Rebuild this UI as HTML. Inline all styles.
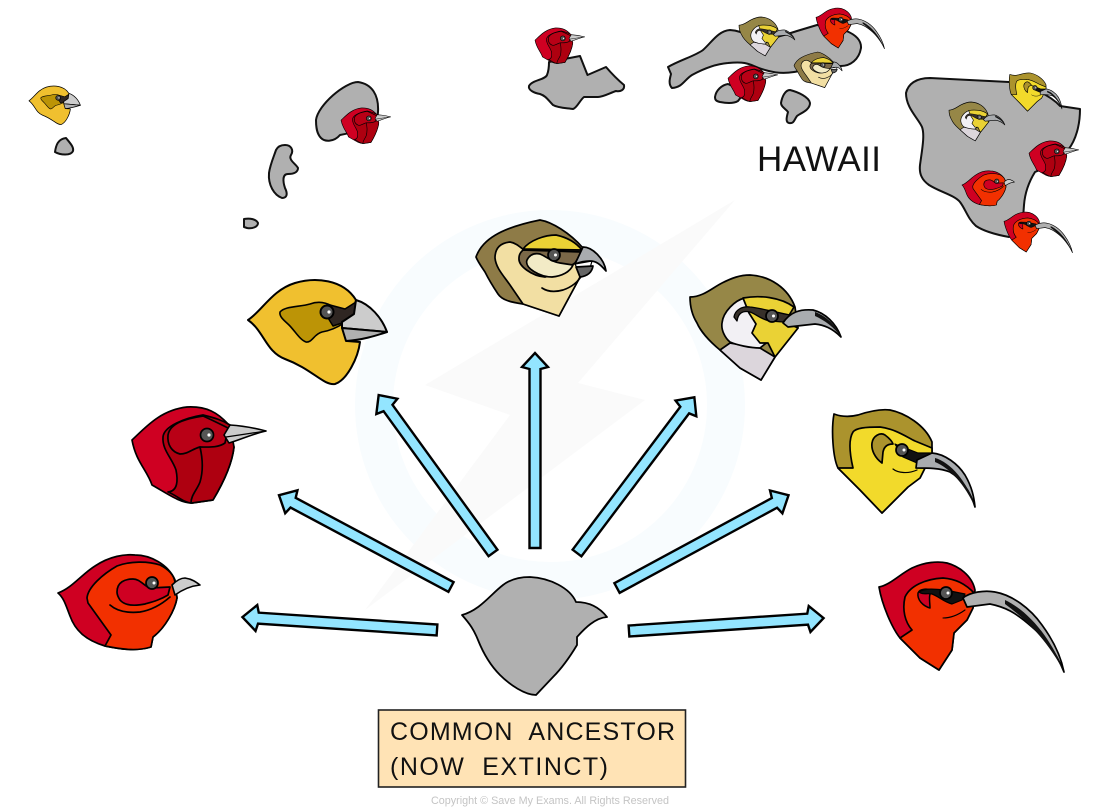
<!DOCTYPE html>
<html><head><meta charset="utf-8"><title>Common ancestor</title>
<style>html,body{margin:0;padding:0;background:#fff}svg{display:block}
.t{font-family:"Liberation Sans",sans-serif;fill:#111}</style></head>
<body>
<svg xmlns="http://www.w3.org/2000/svg" width="1100" height="810" viewBox="0 0 1100 810">
<defs>
<g id="finch" stroke="#000" stroke-width="2" stroke-linejoin="round" stroke-linecap="round">
<path fill="#F0C02F" d="M248,320C262,311 272,290 295,283C315,277 343,279 356,300L347,341L360,342C358,358 347,380 335,384C324,386 312,369 285,359C266,352 264,331 248,320Z"/>
<path fill="#BC9406" stroke-width="1.6" d="M280,312C285,306 300,307 310,304C318,301 325,302 332,306L344,323C335,329 328,331 322,332C314,334 312,343 306,342C300,340 295,331 289,325C285,321 279,317 280,312Z"/>
<path fill="#2F2622" stroke-width="1.5" d="M322,308L330,305L345,309L356,302L354,314L342,323L333,326Z"/>
<path fill="#CCCCCC" d="M356,300C370,304 382,318 387,332L342,328L342,322L354,314Z"/>
<path fill="#B0B0B0" d="M342,328L387,332C375,336 362,340 346,341Z"/>
<circle cx="327" cy="312" r="6.5" fill="#555"/><circle cx="329" cy="312" r="1.6" fill="#fff" stroke="none"/>
</g>
<g id="red" stroke="#000" stroke-width="1.7" stroke-linejoin="round" stroke-linecap="round">
<path fill="#CF0022" d="M132,440C145,428 160,410 187,407C207,406 218,413 228,424L229,443L234,447C232,465 222,485 213,500L192,503C180,503 168,494 152,485C147,470 136,462 132,440Z"/>
<path fill="#AE0010" d="M163,437C164,426 185,418 203,415C215,418 222,420 230,425L234,447C232,465 222,485 213,500L192,503C184,503 176,495 168,492C178,491 178,480 176,470C172,458 162,450 163,437Z"/>
<path fill="#B90016" d="M168,435C170,422 190,418 203,416C212,420 220,424 228,428L225,443C218,448 208,447 200,447C192,449 188,454 180,454C172,452 167,445 168,435Z"/>
<path fill="none" d="M200,447C203,460 203,472 200,482C197,490 191,495 191,503"/>
<path fill="#CCCCCC" stroke-width="1.6" d="M230,425C244,426 255,428 266,431C252,434 240,440 229,443L224,435Z"/>
<path fill="none" stroke-width="1.2" d="M226,437C240,435 252,433 266,431"/>
<circle cx="207" cy="435" r="6.5" fill="#555"/><circle cx="209" cy="435" r="1.6" fill="#fff" stroke="none"/>
</g>
<g id="orange" stroke="#000" stroke-width="1.7" stroke-linejoin="round" stroke-linecap="round">
<path fill="#CF0022" d="M58,593C72,588 82,574 95,566C110,556 125,554 135,555C150,555 168,564 175,580L177,598C175,610 165,628 153,637L151,647C138,651 125,650 105,646C85,640 75,630 70,616C66,606 64,598 58,593Z"/>
<path fill="#F23000" d="M87,598C88,587 103,574 117,566C130,561 148,561 160,565C170,570 174,576 175,582L177,598C175,610 165,628 153,637L151,647C138,651 125,650 105,646L111,635L88,603Z"/>
<path fill="#CF0022" d="M117,592C117,582 125,579 133,579C140,579 144,586 150,588L170,587L168,595C160,600 152,602 145,604C135,606 125,606 120,600C118,597 117,595 117,592Z"/>
<path fill="none" d="M110,605C118,612 130,613 140,612C152,610 162,604 170,597"/>
<path fill="#CCCCCC" stroke-width="1.6" d="M172,585C176,581 180,578 185,578C192,579 196,582 200,585C190,586 182,590 175,595Z"/>
<circle cx="152" cy="583" r="6" fill="#555"/><circle cx="154" cy="583" r="1.5" fill="#fff" stroke="none"/>
</g>
<g id="parrot" stroke="#000" stroke-width="1.7" stroke-linejoin="round" stroke-linecap="round">
<path fill="#8E7B47" d="M476,257C482,240 500,228 540,220C552,222 570,233 583,248L580,277L559,316L523,304C510,302 502,300 498,294C492,285 489,280 485,272C481,266 478,262 476,257Z"/>
<path fill="#F2DFA3" d="M495,258C495,248 500,243 510,242C516,243 520,247 524,250L582,250L580,277L559,316L523,304L510,285C503,275 496,268 495,258Z"/>
<path fill="#EAD235" d="M523,249C530,240 545,235 556,235C570,238 578,245 582,250Z"/>
<path fill="#7B6848" d="M523,250L582,252L575,263C565,270 553,275 545,277C532,276 518,266 519,258C519,254 521,252 523,250Z"/>
<path fill="#F2EBC6" d="M527,260C530,254 535,253 540,254C547,257 552,262 560,263L573,265C570,272 562,276 552,277C540,277 524,268 527,260Z"/>
<path fill="none" d="M542,288C548,292 556,292 563,290C572,287 578,282 582,275"/>
<path fill="#fff" stroke-width="1.2" d="M575,264L592,261L590,268L578,270Z"/>
<path fill="#666" d="M576,267L593,266C592,272 588,276 580,277Z"/>
<path fill="#A9ACAF" d="M583,247C592,247 604,258 606,271C600,264 596,261 590,261C585,261 580,262 575,264Z"/>
<circle cx="554" cy="255" r="6" fill="#555"/><circle cx="555.5" cy="255" r="1.5" fill="#fff" stroke="none"/>
</g>
<g id="olive" stroke="#000" stroke-width="1.7" stroke-linejoin="round" stroke-linecap="round">
<path fill="#968747" d="M690,297C703,297 712,288 722,283C732,278 740,275 750,275C770,276 788,288 795,307L798,328L775,357L761,380L740,368L720,350C708,340 700,330 697,323C692,315 690,305 690,297Z"/>
<path fill="#DCD6DC" d="M720,350L730,343L760,348L775,357L761,380L740,368Z"/>
<path fill="#F2F0F4" d="M722,323C723,312 735,300 745,298L770,340L760,348C750,348 737,345 730,342C725,338 721,330 722,323Z"/>
<path fill="#EAD235" d="M743,298C760,295 780,297 794,307L785,322L798,328L775,357L768,343L760,343L752,333L756,324L749,313Z"/>
<path fill="#37302A" stroke-width="1.3" d="M734,317C735,310 742,306 750,307C760,308 775,312 790,315L783,322L770,321C762,320 756,314 750,312C742,310 738,314 737,321Z"/>
<path fill="#A9ACAF" d="M783,323C790,312 800,309 813,310C825,313 836,323 841,337C832,328 824,325 815,324L788,327Z"/>
<path fill="#111" stroke="none" d="M815,312C826,316 836,325 841,337C834,327 824,320 815,316Z"/>
<circle cx="772" cy="316" r="6" fill="#555"/><circle cx="773.5" cy="316" r="1.5" fill="#fff" stroke="none"/>
</g>
<g id="yellow" stroke="#000" stroke-width="1.7" stroke-linejoin="round" stroke-linecap="round">
<path fill="#AB932D" d="M834,414C842,417 850,417 858,415C870,411 882,409 890,410C905,413 925,425 932,442L932,453L925,468L920,478L908,487L895,500L882,513L860,490L838,468C833,458 831,430 834,414Z"/>
<path fill="#F2DA2B" d="M838,468L853,468C850,455 848,440 853,432C856,428 865,427 880,427C895,429 905,436 915,441L932,448L932,453L925,468L920,478L908,487L895,500L882,513L860,490Z"/>
<path fill="#AB932D" d="M872,443C873,436 880,432 885,435C889,438 892,441 893,444C887,444 884,447 883,452L882,463C875,458 871,450 872,443Z"/>
<path fill="#111" stroke-width="1.2" d="M895,444L918,453L932,453L917,463L903,457Z"/>
<path fill="none" stroke-width="1.2" d="M893,469C898,473 908,474 917,470"/>
<path fill="#A9ACAF" d="M917,460L932,453C945,454 958,464 965,475C972,487 974,497 975,507C970,490 960,478 950,472C940,468 928,468 916,468Z"/>
<path fill="#111" stroke="none" d="M935,458C950,462 968,482 975,507C965,485 950,468 935,462Z"/>
<circle cx="902" cy="450" r="6" fill="#555"/><circle cx="904" cy="450" r="1.5" fill="#fff" stroke="none"/>
</g>
<g id="iiwi" stroke="#000" stroke-width="1.7" stroke-linejoin="round" stroke-linecap="round">
<path fill="#CF0022" d="M879,587C890,585 900,574 912,568C925,562 938,561 947,563C958,566 972,575 975,590L973,608L967,620L954,633L952,650L939,670L920,658L900,638C892,628 882,605 879,587Z"/>
<path fill="#F23000" d="M900,638L912,630C905,622 902,610 905,597C910,586 925,579 943,578C955,579 965,583 975,594L973,608L967,620L954,633L952,650L939,670L920,658Z"/>
<path fill="#CF0022" stroke-width="1.5" d="M918,593C920,588 928,589 932,590C928,595 930,602 930,608C923,606 917,600 918,593Z"/>
<path fill="#111" stroke-width="1.2" d="M919,592C925,588 935,589 945,590L965,594L962,600L952,604C944,602 938,596 932,594C927,593 922,595 919,592Z"/>
<path fill="none" stroke-width="1.1" d="M943,618C950,618 958,615 965,610"/>
<path fill="#B0B0B0" d="M963,598C970,592 985,590 995,592C1012,595 1030,608 1042,625C1053,640 1061,657 1064,672C1055,650 1045,638 1032,627C1015,612 1005,607 990,604L967,607Z"/>
<path fill="#111" stroke="none" d="M1005,600C1030,612 1052,640 1064,672C1050,645 1030,622 1005,604Z"/>
<circle cx="946" cy="593" r="6" fill="#555"/><circle cx="948" cy="593" r="1.5" fill="#fff" stroke="none"/>
</g>
<path id="arr" fill="#93E5FF" stroke="#000" stroke-width="2.4" stroke-linejoin="miter" d="M0,-5.5L179,-5.5L181,-13L195,0L181,13L179,5.5L0,5.5Z"/>
</defs>

<rect width="1100" height="810" fill="#fff"/>
<circle cx="550" cy="405" r="176" fill="none" stroke="#F8FCFE" stroke-width="38"/>
<path fill="#FAFAFA" d="M735,200L425,385L510,415L365,610L645,400L578,383Z"/>

<g fill="#B0B0B0" stroke="#111" stroke-width="2" stroke-linejoin="round">
<path d="M55,152C56,145 58,139 66,138C70,143 74,147 73,151C71,156 60,155 55,152Z"/>
<path d="M316,120C318,105 345,82 358,82C372,84 379,95 378,112C378,125 352,133 340,135C334,142 325,142 321,138C317,134 316,128 316,120Z"/>
<path d="M285,145C291,145 294,150 291,155C288,160 296,164 298,168C298,172 294,174 288,174C282,174 283,182 285,188C288,194 287,198 282,198C274,195 268,185 269,173C270,165 274,156 276,150C278,146 281,145 285,145Z"/>
<path d="M244,219C250,218 256,219 258,223C258,227 252,229 247,228L244,227Z"/>
<path d="M549,62L580,56L587.5,75L606,67C612,74 618,80 624,85C625,90 620,92 616,91C610,93 603,97 598,97L584,97C580,100 577,108 573,109C566,108 558,108 553,105C548,100 546,96 540,94C534,93 528,90 529,86C532,80 545,80 547,75C549,70 549,66 549,62Z"/>
<path d="M668,67C680,60 695,56 703,50C712,42 718,31 730,30C745,31 748,38 762,40C775,38 785,35 797,31L817,25C835,26 862,32 861,48C859,60 850,66 841,66C820,69 805,70 794,72C782,74 770,73 754,66C745,62 738,62 728,63C715,64 703,69 692,75C684,80 683,87 672,88C668,84 670,78 671,74Z"/>
<path d="M715,97C716,90 722,85 728,84L745,92L738,101C733,104 725,103 720,102C716,101 715,100 715,97Z"/>
<path d="M781,103C782,97 785,90 790,90C798,92 809,97 810,103C810,110 801,113 797,116C794,120 794,124 789,123C785,122 787,116 788,112C786,109 781,107 781,103Z"/>
<path d="M906,93C908,84 916,78 930,78L1009,82C1030,86 1050,95 1060,106L1080,109C1080,125 1076,140 1068,150C1055,163 1040,170 1035,172C1030,180 1025,192 1024,205L1022,232L1009,237C998,235 985,232 976,226C968,219 966,210 960,202C954,195 940,192 929,185C922,180 919,174 920,165C922,150 925,135 922,127C918,118 906,108 906,93Z"/>
</g>

<g>
<use href="#arr" transform="translate(437,630) rotate(183.8)"/>
<use href="#arr" transform="translate(451,587) rotate(208.1)"/>
<use href="#arr" transform="translate(493,553) rotate(234.1)"/>
<use href="#arr" transform="translate(535,548) rotate(270)"/>
<use href="#arr" transform="translate(577,553) rotate(-53)"/>
<use href="#arr" transform="translate(617,588) rotate(-28.4)"/>
<use href="#arr" transform="translate(629,631) rotate(-3.8)"/>
</g>

<use href="#finch"/><use href="#red"/><use href="#orange"/><use href="#parrot"/><use href="#olive"/><use href="#yellow"/><use href="#iiwi"/>

<use href="#finch" transform="translate(-62.8,-17.6) scale(.37)"/>
<use href="#red" transform="translate(292.2,-42.6) scale(.37)"/>
<use href="#red" transform="translate(486.2,-122.6) scale(.37)"/>
<use href="#red" transform="translate(679.2,-84.6) scale(.37)"/>
<use href="#red" transform="translate(980.2,-9.6) scale(.37)"/>
<use href="#olive" transform="translate(483.7,-84.75) scale(.37)"/>
<use href="#olive" transform="translate(693.7,0.25) scale(.37)"/>
<use href="#iiwi" transform="translate(490.8,-199.9) scale(.37)"/>
<use href="#iiwi" transform="translate(678.8,4.1) scale(.37)"/>
<use href="#parrot" transform="translate(617.9,-29.4) scale(.37)"/>
<use href="#yellow" transform="translate(701.2,-78.7) scale(.37)"/>
<use href="#orange" transform="translate(940.5,-34.4) scale(.37)"/>

<path fill="#B0B0B0" stroke="#000" stroke-width="1.8" stroke-linejoin="round" d="M462,615C480,610 490,595 503,585C512,578 522,577 530,577C550,578 570,588 576,602C590,602 600,608 607,617C595,618 585,628 577,637L577,645C568,660 560,670 553,677L536,695C525,695 510,685 500,675C488,663 482,650 478,640C474,630 470,624 462,615Z"/>

<rect x="378.5" y="710" width="307" height="77" fill="#FFE3B5" stroke="#222" stroke-width="1.6"/>
<text class="t" x="390" y="740" font-size="25" textLength="285" lengthAdjust="spacing" xml:space="preserve">COMMON  ANCESTOR</text>
<text class="t" x="390" y="775" font-size="25" textLength="218" lengthAdjust="spacing" xml:space="preserve">(NOW  EXTINCT)</text>
<text class="t" x="757" y="171" font-size="35" textLength="124" lengthAdjust="spacing">HAWAII</text>
<text x="431" y="804" font-family="Liberation Sans, sans-serif" font-size="11" fill="#C4C4C4" textLength="238" lengthAdjust="spacingAndGlyphs">Copyright © Save My Exams. All Rights Reserved</text>
</svg>
</body></html>
